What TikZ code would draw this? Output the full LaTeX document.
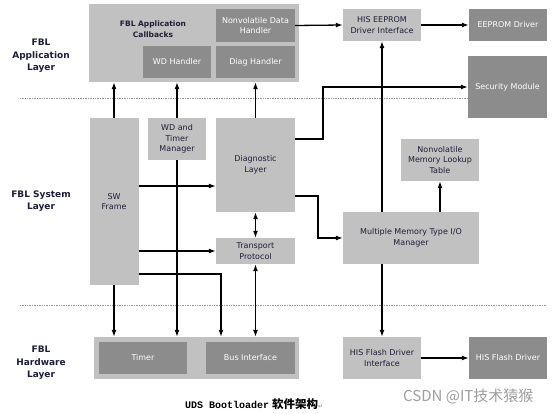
\documentclass[tikz,border=0pt]{standalone}
\usepackage{fontspec}
\setmainfont{DejaVu Sans}
\newfontfamily\cjk{Noto Sans CJK SC}
\newfontfamily\capmono{Liberation Mono}
\usepackage{tikz}
\usetikzlibrary{arrows.meta}
\definecolor{boxlight}{RGB}{193,193,193}
\definecolor{boxdark}{RGB}{140,140,140}
\definecolor{boxtext}{RGB}{30,30,55}
\definecolor{sepline}{RGB}{150,150,150}

\tikzset{
  lbox/.style={fill=boxlight, text=boxtext, inner sep=1pt, align=center, font=\fontsize{8}{10.5}\selectfont},
  dbox/.style={fill=boxdark, text=white, inner sep=1pt, align=center, font=\fontsize{8}{10.5}\selectfont},
  layer/.style={text=boxtext, align=center, font=\bfseries\fontsize{9}{12.5}\selectfont},
  arr/.style={line width=1.3pt, -{Latex[length=7pt,width=5pt]}},
  darr/.style={line width=1.3pt, {Latex[length=7pt,width=5pt]}-{Latex[length=7pt,width=5pt]}},
  sep/.style={sepline, line width=0.6pt, dash pattern=on 1pt off 0.7pt},
}

\begin{document}
\begin{tikzpicture}[x=1pt,y=-1pt]
    \useasboundingbox[fill=white] (0,0) rectangle (554,414);

    % layer separators
    \draw[sep] (20,98) -- (468,98);
    \draw[sep] (20,305) -- (547,305);

    % layer labels
    \node[layer] (applayer) at (41,56) {FBL\\Application\\Layer};
    \node[layer] (syslayer) at (41,201) {FBL System\\Layer};
    \node[layer] (hwlayer) at (41,363) {FBL\\Hardware\\Layer};

    % application layer
    \node[lbox, minimum width=210, minimum height=78] (appbox) at (194,43) {};
    \node[text=boxtext, align=center, font=\bfseries\fontsize{7.5}{10.5}\selectfont] (appcb) at (153,29) {FBL Application\\Callbacks};
    \node[dbox, minimum width=79, minimum height=33] (nvdh) at (255.5,25.5) {Nonvolatile Data\\Handler};
    \node[dbox, minimum width=68, minimum height=32] (wdh) at (177,62) {WD Handler};
    \node[dbox, minimum width=79, minimum height=32] (diagh) at (255.5,62) {Diag Handler};

    \node[lbox, minimum width=78, minimum height=32] (eepif) at (382,25) {HIS EEPROM\\Driver Interface};
    \node[dbox, minimum width=78, minimum height=32] (eepdrv) at (508,25) {EEPROM Driver};
    \node[dbox, minimum width=79, minimum height=62] (secmod) at (507.5,87) {Security Module};

    % system layer
    \node[lbox, minimum width=49, minimum height=167] (swframe) at (114,201.5) {SW\\Frame};
    \node[lbox, minimum width=58, minimum height=42] (wdtm) at (177,139) {WD and\\Timer\\Manager};
    \node[lbox, minimum width=79, minimum height=94] (diag) at (255.5,165) {Diagnostic\\Layer};
    \node[lbox, minimum width=79, minimum height=26] (tp) at (255.5,251) {Transport\\Protocol};
    \node[lbox, minimum width=78, minimum height=42] (nvmlt) at (440,160) {Nonvolatile\\Memory Lookup\\Table};
    \node[lbox, minimum width=136, minimum height=52] (mmtio) at (411,238) {Multiple Memory Type I/O\\Manager};

    % hardware layer
    \node[lbox, minimum width=205, minimum height=42] (hwbox) at (196.5,358) {};
    \node[dbox, minimum width=88, minimum height=32] (timer) at (143,358) {Timer};
    \node[dbox, minimum width=89, minimum height=32] (busif) at (250.5,358) {Bus Interface};
    \node[lbox, minimum width=78, minimum height=42] (flashif) at (382,358) {HIS Flash Driver\\Interface};
    \node[dbox, minimum width=78, minimum height=42] (flashdrv) at (508,358) {HIS Flash Driver};

    \coordinate (secbend) at (323,139);
    \coordinate (mmbend) at (318,196);
    \coordinate (busbend) at (221,274);
    \coordinate (swdiag) at (0,186);

    % up into the application layer
    \draw[arr] (swframe.north) -- (swframe.north |- appbox.south);
    \draw[arr] (wdtm.north) -- (wdtm.north |- appbox.south);
    \draw[arr] (diag.north) -- (diag.north |- appbox.south);

    \draw[arr] (nvdh.east) -- (eepif.west);
    \draw[arr] (eepif.east) -- (eepdrv.west);
    \draw[arr] (eepif.south |- mmtio.north) -- (eepif.south);
    \draw[arr] (diag.east |- secbend) -- (secbend) |- (secmod.west);
    \draw[arr] (diag.east |- mmbend) -- (mmbend) |- (mmtio.west);
    \draw[arr] (nvmlt.south |- mmtio.north) -- (nvmlt.south);

    \draw[arr] (swframe.east |- swdiag) -- (diag.west |- swdiag);
    \draw[arr] (swframe.east |- tp.west) -- (tp.west);
    \draw[darr] (diag.south) -- (tp.north);

    % down into the hardware layer
    \draw[arr] (swframe.south) -- (swframe.south |- hwbox.north);
    \draw[arr] (wdtm.south) -- (wdtm.south |- hwbox.north);
    \draw[arr] (swframe.east |- busbend) -- (busbend) -- (busbend |- hwbox.north);
    \draw[darr] (tp.south) -- (tp.south |- hwbox.north);
    \draw[arr] (flashif.north |- mmtio.south) -- (flashif.north);
    \draw[arr] (flashif.east) -- (flashdrv.west);

    % caption
    \node[anchor=west, inner sep=0] (caption) at (185,404) {{\capmono\bfseries\fontsize{10}{12}\selectfont UDS Bootloader\hspace{3pt}}{\cjk\bfseries\fontsize{11.5}{12}\selectfont 软件架构}{\color{gray}\fontsize{6}{6}\selectfont ↵}};
    \node[anchor=west, inner sep=0, text=gray!75, font=\cjk\fontsize{15}{15}\selectfont] (mark) at (403,396) {CSDN @IT技术猿猴};
\end{tikzpicture}
\end{document}
